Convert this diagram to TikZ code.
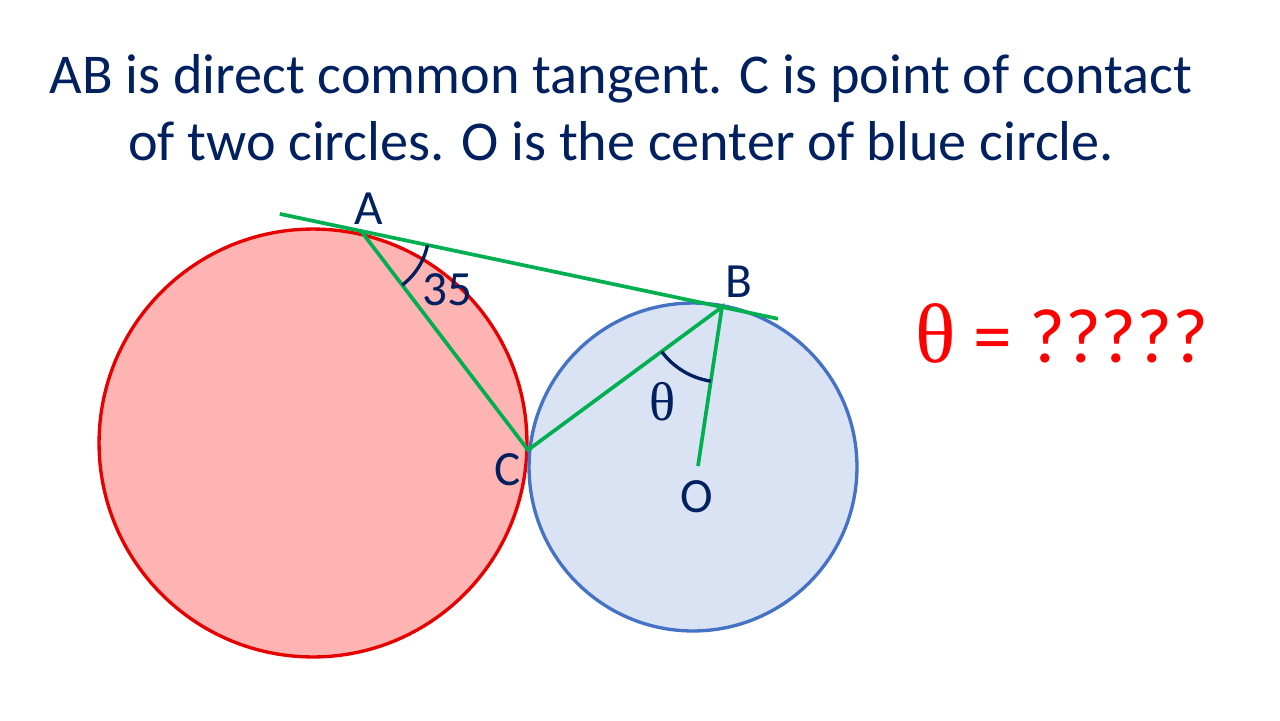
\documentclass[tikz,border=0pt]{standalone}
\usepackage{fontspec}
\setmainfont{Carlito}
\newfontfamily\thetafont{Liberation Serif}
\usetikzlibrary{calc, angles}

\definecolor{navy}{RGB}{0,32,96}
\definecolor{tgreen}{RGB}{0,176,80}
\definecolor{redline}{RGB}{230,0,0}
\definecolor{redfill}{RGB}{255,180,180}
\definecolor{blueline}{RGB}{68,114,196}
\definecolor{bluefill}{RGB}{218,227,243}

\begin{document}
\begin{tikzpicture}[x=0.02cm,y=-0.02cm,
    chord/.style={tgreen, line width=2.1pt},
    lbl/.style={navy, font=\fontsize{28}{32}\selectfont}]
      \useasboundingbox[fill=white] (0,0) rectangle (1280,720);

      \coordinate (P) at (313,443);
      \coordinate (Q) at (693,467);
      \coordinate (A) at (361,231);
      \coordinate (B) at (722,307);
      \coordinate (C) at (528,450);
      \coordinate (O) at (698,466);

      \fill[redfill] (P) circle[radius=4.28cm];
      \draw[redline, line width=1.9pt] (P) circle[radius=4.28cm];
      \fill[bluefill] (Q) circle[radius=3.28cm];
      \draw[blueline, line width=1.9pt] (Q) circle[radius=3.28cm];

      \draw[chord] ($(A)!-0.225!(B)$)--($(B)!-0.155!(A)$);
      \draw[chord] (A)--(C)--(B)--(O);

      \pic[draw=navy, line width=1.9pt, angle radius=1.36cm] {angle=C--A--B};
      \pic[draw=navy, line width=1.9pt, angle radius=1.5cm] {angle=C--B--O};

      \node[navy, font=\fontsize{32}{38}\selectfont, anchor=base] (line1) at (621,93)
        {AB is direct common tangent. C is point of contact};
      \node[navy, font=\fontsize{32}{38}\selectfont, anchor=base] (line2) at (621,160)
        {of two circles. O is the center of blue circle.};

      \node[lbl] (labA) at ($(A)+(8,-22)$) {A};
      \node[lbl] (labB) at ($(B)+(17,-25)$) {B};
      \node[lbl] (labC) at ($(C)+(-20,20)$) {C};
      \node[lbl] (labO) at ($(O)+(-1,31)$) {O};
      \node[lbl] (ang35) at (447,290) {35};
      \node[navy, font=\thetafont\fontsize{31}{34}\selectfont] (angT) at (663,402) {θ};

      \node[red, anchor=base west, font=\fontsize{44}{50}\selectfont, inner sep=0pt] (ask) at (915,362)
        {{\thetafont\fontsize{48}{50}\selectfont θ} = ?????};
    \end{tikzpicture}
\end{document}
